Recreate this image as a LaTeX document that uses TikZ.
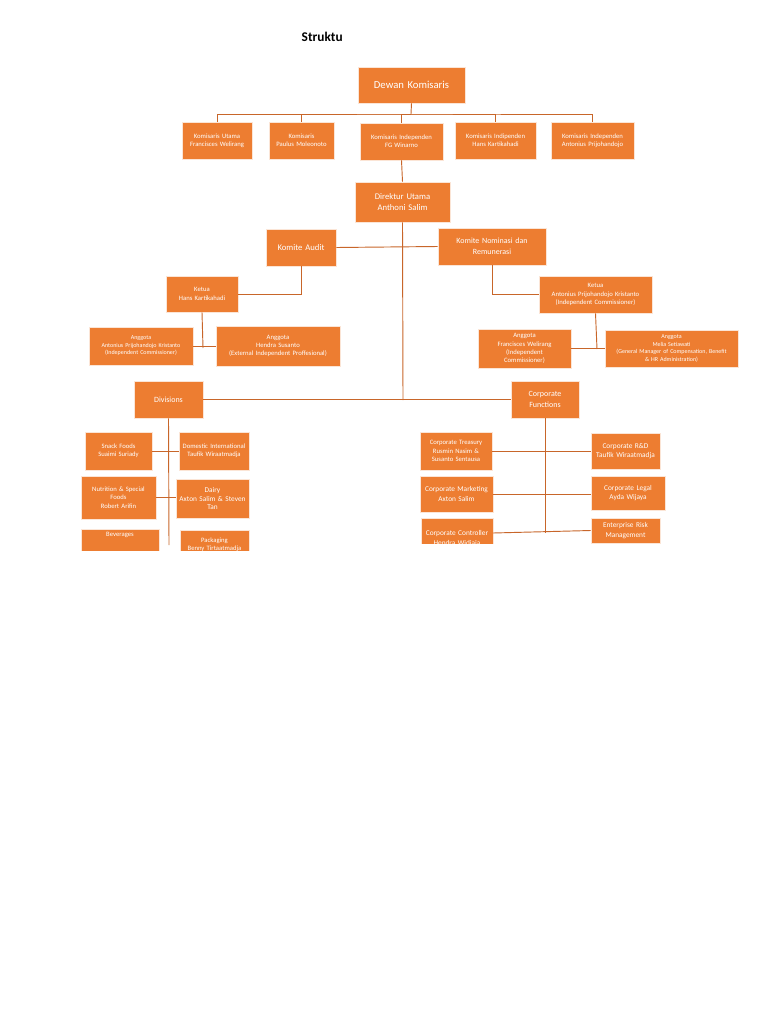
\documentclass[tikz,border=0pt]{standalone}
\usepackage{fontspec}
\setmainfont{Carlito}
\definecolor{org}{HTML}{ED7D31}
\definecolor{ln}{HTML}{C8662A}
\begin{document}
\begin{tikzpicture}[x=0.75pt,y=-0.75pt,
 bx/.style={fill=org,draw=white!80!org,line width=0.4pt,text=white,align=center,inner sep=0.5pt,font=\fontsize{5}{6.2}\selectfont},
 cn/.style={draw=ln,line width=0.7pt}]
\useasboundingbox[fill=white] (0,0) rectangle (768,1024);
\newcommand\bx[7][]{\pgfmathsetmacro\cxx{(#3+#5)/2}\pgfmathsetmacro\cyy{(#4+#6)/2}\pgfmathsetmacro\ww{(#5-#3)*0.75}\pgfmathsetmacro\hh{(#6-#4)*0.75}\pgfmathsetmacro\tw{\ww-1}\node[bx,minimum width=\ww pt,minimum height=\hh pt,text width=\tw pt,#1] (#2) at (\cxx,\cyy) {#7};}
\node[font=\bfseries\fontsize{10}{12}\selectfont,anchor=west] (title) at (297,37) {Struktu};
\bx[font=\fontsize{8}{9}\selectfont]{dk}{358}{67}{465}{103}{Dewan Komisaris}
\bx{k1}{182}{122}{252}{159}{Komisaris Utama\\Francisces Welirang}
\bx{k2}{269}{122}{334}{159}{Komisaris\\Paulus Moleonoto}
\bx{k3}{360}{123}{443}{160}{Komisaris Independen\\FG Winarno}
\bx{k4}{455}{122}{536}{159}{Komisaris Indipenden\\Hans Kartikahadi}
\bx{k5}{551}{122}{634}{159}{Komisaris Independen\\Antonius Prijohandojo}
\bx[font=\fontsize{6.5}{8.5}\selectfont]{du}{355}{182}{450}{222}{Direktur Utama\\Anthoni Salim}
\bx[font=\fontsize{6.5}{8}\selectfont]{ka}{266}{229}{336}{266}{Komite Audit}
\bx[font=\fontsize{6}{8}\selectfont]{kn}{438}{228}{546}{265}{Komite Nominasi dan\\Remunerasi}
\bx{kh}{166}{276}{238}{312}{Ketua\\Hans Kartikahadi}
\bx{kt}{539}{276}{652}{313}{Ketua\\Antonius Prijohandojo Kristanto\\(Independent Commissioner)}
\bx[font=\fontsize{4.5}{5.6}\selectfont]{a1}{89}{327}{193}{365}{Anggota\\Antonius Prijohandojo Kristanto\\(Independent Commissioner)}
\bx{a2}{216}{326}{340}{366}{Anggota\\Hendra Susanto\\(External Independent Proffesional)}
\bx{a3}{478}{329}{571}{368}{Anggota\\Francisces Welirang\\(Independent\\Commissioner)}
\bx[font=\fontsize{4.5}{5.6}\selectfont]{a4}{605}{330}{738}{367}{Anggota\\Melia Setiawati\\(General Manager of Compensation, Benefit\\\& HR Administration)}
\bx[font=\fontsize{6}{8}\selectfont]{dv}{134}{381}{203}{418}{Divisions}
\bx[font=\fontsize{6}{8}\selectfont]{cf}{511}{381}{579}{418}{Corporate\\Functions}
\bx{d1}{85}{432}{152}{470}{Snack Foods\\Suaimi Suriady}
\bx{d2}{179}{432}{249}{470}{Domestic International\\Taufik Wiraatmadja}
\bx{d3}{81}{476}{156}{519}{Nutrition \& Special\\Foods\\Robert Arifin}
\bx[font=\fontsize{5.5}{6.5}\selectfont]{d4}{176}{479}{249}{518}{Dairy\\Axton Salim \& Steven\\Tan}
\bx{c1}{420}{432}{492}{470}{Corporate Treasury\\Rusmin Nasim \&\\Susanto Sentausa}
\bx[font=\fontsize{5.5}{7}\selectfont]{c2}{591}{433}{660}{469}{Corporate R\&D\\Taufik Wiraatmadja}
\bx[font=\fontsize{5.5}{7}\selectfont]{c3}{420}{476}{493}{512}{Corporate Marketing\\Axton Salim}
\bx[font=\fontsize{5.5}{7}\selectfont]{c4}{591}{476}{665}{510}{Corporate Legal\\Ayda Wijaya}
\bx[font=\fontsize{5.5}{7}\selectfont]{c6}{591}{518}{660}{543}{Enterprise Risk\\Management}
\begin{scope}
\clip (0,0) rectangle (768,550);
\bx[text depth=9pt]{d5}{81}{529}{159}{552}{Beverages}
\bx[text depth=2pt]{d6}{180}{530}{249}{553}{Packaging\\Benny Tirtaatmadja}
\end{scope}
\begin{scope}
\clip (0,0) rectangle (768,543);
\bx[font=\fontsize{5.5}{7}\selectfont,text depth=1pt]{c5}{421}{518}{493}{550}{Corporate Controller\\Hendra Widjaja}
\end{scope}
% connectors
\coordinate (hb) at (411,114);
\draw[cn] (dk.south) -- (hb);
\draw[cn] (k1.north) |- (hb) -| (k5.north);
\draw[cn] (k2.north) |- (hb) -| (k4.north);
\draw[cn] (hb) -| (k3.north);
\draw[cn] (k3.south) -- (du.north);
\coordinate (mid) at (403,400);
\draw[cn] (du.south) -- (mid);
\draw[cn] (ka.east) -- (kn.west);
\draw[cn] (ka.south) |- (kh.east);
\draw[cn] (kn.south -| 492,0) |- (kt.west);
\draw[cn] (kh.south) -- (203,348);
\draw[cn] (a1.east) -- (a2.west);
\draw[cn] (kt.south) -- (597,349);
\draw[cn] (a3.east) -- (a4.west);
\draw[cn] (dv.east) -- (cf.west);
\draw[cn] (dv.south) -- (169,545);
\draw[cn] (d1.east) -- (d2.west);
\draw[cn] (d3.east) -- (d3.east -| d4.west);
\draw[cn] (cf.south) -- (545,533);
\draw[cn] (c1.east) -- (c1.east -| c2.west);
\draw[cn] (c3.east) -- (c3.east -| c4.west);
\draw[cn] (493,533) -- (c6.west);
\end{tikzpicture}
\end{document}
